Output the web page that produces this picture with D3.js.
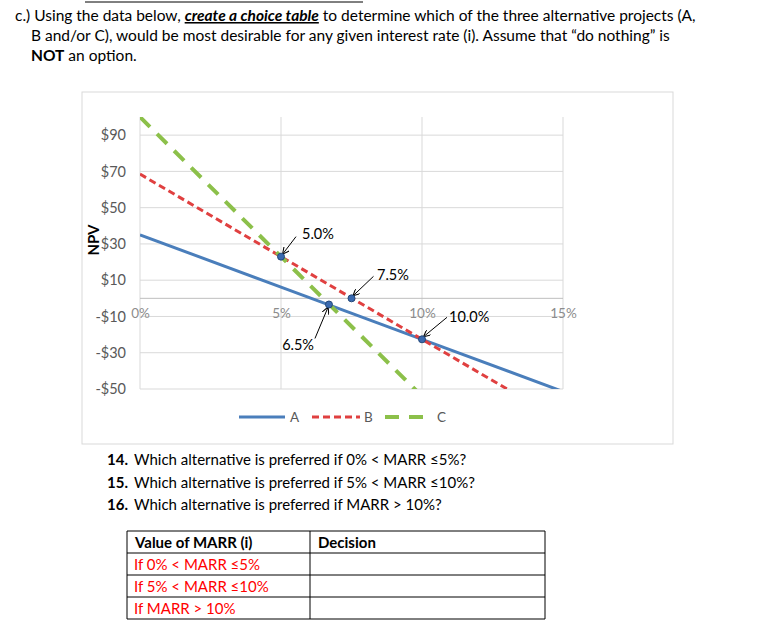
<!DOCTYPE html>
<html><head><meta charset="utf-8">
<script src="https://cdn.jsdelivr.net/npm/d3@7"></script>
<style>body{margin:0;background:#fff}svg{display:block;font-family:Lato,"Open Sans",sans-serif}</style>
</head><body><svg id="c" width="783" height="623"></svg>
<script>
const rates=[0,5,10,15];
const seriesA=[35,6.2,-22.6,-51.4];
const seriesB=[68.5,23,-22.6,-68];
const seriesC=[100,23,-54,-131];
const yTicks=[90,70,50,30,10,-10,-30,-50];
const xTicks=[0,5,10,15];
const crossX=[5,6.7,7.5,10];
const crossY=[23,-3.4,0,-22.6];
const crossLbl=["5.0%","6.5%","7.5%","10.0%"];
const questions=[["14.","Which alternative is preferred if 0% < MARR ≤5%?"],["15.","Which alternative is preferred if 5% < MARR ≤10%?"],["16.","Which alternative is preferred if MARR > 10%?"]];
const tableHead=["Value of MARR (i)","Decision"];
const tableRows=["If 0% < MARR ≤5%","If 5% < MARR ≤10%","If MARR > 10%"];

const svg=d3.select("#c");
svg.append("line").attr("x1",85).attr("x2",363).attr("y1",2).attr("y2",2).attr("stroke","#000").attr("stroke-width",1);
const t1=svg.append("text").attr("x",15).attr("y",21).attr("font-size",15.5);
t1.append("tspan").text("c.)  Using the data below, ");
t1.append("tspan").attr("font-weight","bold").attr("font-style","italic").attr("text-decoration","underline").text("create a choice table");
t1.append("tspan").text(" to determine which of the three alternative projects (A,");
svg.append("text").attr("x",31).attr("y",41).attr("font-size",15.5).text("B and/or C), would be most desirable for any given interest rate (i).  Assume that “do nothing” is");
const t3=svg.append("text").attr("x",31).attr("y",61).attr("font-size",15.5);
t3.append("tspan").attr("font-weight","bold").text("NOT");t3.append("tspan").text(" an option.");

svg.append("rect").attr("x",82).attr("y",92).attr("width",591).attr("height",352).attr("fill","#fff").attr("stroke","#d9d9d9");

const x=d3.scaleLinear().domain([0,15]).range([140,563]);
const y=d3.scaleLinear().domain([-50,100]).range([389,117]);
const g=svg.append("g");
g.selectAll(".gy").data(yTicks).join("line").attr("x1",x(0)).attr("x2",x(15)).attr("y1",d=>y(d)).attr("y2",d=>y(d)).attr("stroke","#d9d9d9");
g.selectAll(".gx").data(xTicks).join("line").attr("x1",d=>x(d)).attr("x2",d=>x(d)).attr("y1",y(100)).attr("y2",y(-50)).attr("stroke","#d9d9d9");
g.append("line").attr("x1",x(0)).attr("x2",x(15)).attr("y1",y(0)).attr("y2",y(0)).attr("stroke","#bfbfbf");
const yAxis=d3.axisLeft(y).tickValues(yTicks).tickSize(0).tickPadding(14).tickFormat(d=>(d<0?"-$":"$")+Math.abs(d));
const ya=svg.append("g").attr("transform",`translate(${x(0)},0)`).call(yAxis);
ya.select(".domain").remove();
ya.selectAll("text").attr("fill","#595959").attr("font-size",14.5).attr("font-family","Lato,sans-serif");
const xAxis=d3.axisBottom(x).tickValues(xTicks).tickSize(0).tickPadding(10).tickFormat(d=>d+"%");
const xa=svg.append("g").attr("transform",`translate(0,${y(0)})`).call(xAxis);
xa.select(".domain").remove();
xa.selectAll("text").attr("fill","#8c8c8c").attr("font-size",13.5).attr("font-family","Lato,sans-serif");
svg.append("text").attr("transform",`translate(99,240) rotate(-90)`).attr("text-anchor","middle").attr("font-weight","bold").attr("font-size",15).text("NPV");

svg.append("clipPath").attr("id","pc").append("rect").attr("x",x(0)).attr("y",y(100)).attr("width",x(15)-x(0)).attr("height",y(-50)-y(100));
const line=d3.line().x((d,i)=>x(rates[i])).y(d=>y(d));
const lg=svg.append("g").attr("clip-path","url(#pc)");
const sty=[[seriesA,"#4a7ebb",3,null],[seriesB,"#e04040",3,"7,4"],[seriesC,"#8cc04a",4,"14,10"]];
sty.forEach(([s,c,w,da])=>lg.append("path").attr("d",line(s)).attr("fill","none").attr("stroke",c).attr("stroke-width",w).attr("stroke-dasharray",da));

svg.append("defs").append("marker").attr("id","ar").attr("viewBox","0 0 10 10").attr("refX",9).attr("refY",5).attr("markerWidth",7).attr("markerHeight",7).attr("orient","auto").append("path").attr("d","M0,0L10,5L0,10").attr("fill","none").attr("stroke","#000").attr("stroke-width",1.5);
const offs=[[15,-20,302,239,"start"],[-14,34,313,350,"end"],[22,-22,377,280,"start"],[25,-22,449,322,"start"]];
crossX.forEach((cx,i)=>{
  const px=x(cx),py=y(crossY[i]),o=offs[i];
  svg.append("line").attr("x1",px+o[0]).attr("y1",py+o[1]).attr("x2",px+(o[0]>0?2:-1)).attr("y2",py+(o[1]>0?3:-3)).attr("stroke","#000").attr("stroke-width",1).attr("marker-end","url(#ar)");
  svg.append("circle").attr("cx",px).attr("cy",py).attr("r",3.5).attr("fill","#3a6ab0").attr("stroke","#24497a");
  svg.append("text").attr("x",o[4]==="end"?314:o[2]).attr("y",o[3]).attr("text-anchor",o[4]).attr("font-size",14.5).text(crossLbl[i]);
});
const leg=[["A","#4a7ebb",3,null,239,285,290],["B","#e04040",3,"7,4",312,360,364],["C","#8cc04a",4,"14,10",385,428,437]];
leg.forEach(l=>{svg.append("line").attr("x1",l[4]).attr("x2",l[5]).attr("y1",417).attr("y2",417).attr("stroke",l[1]).attr("stroke-width",l[2]).attr("stroke-dasharray",l[3]);
svg.append("text").attr("x",l[6]).attr("y",422).attr("font-size",13.5).attr("fill","#595959").text(l[0]);});

questions.forEach((q,i)=>{const t=svg.append("text").attr("x",107).attr("y",465+i*22.5).attr("font-size",15);
t.append("tspan").attr("font-weight","bold").text(q[0]);t.append("tspan").attr("x",134).text(q[1]);});
const tx=[127,310,545],ty=[531,553,575,597,619];
ty.forEach(v=>svg.append("line").attr("x1",tx[0]).attr("x2",tx[2]).attr("y1",v).attr("y2",v).attr("stroke","#000"));
tx.forEach(v=>svg.append("line").attr("x1",v).attr("x2",v).attr("y1",ty[0]).attr("y2",ty[4]).attr("stroke","#000"));
tableHead.forEach((h,i)=>svg.append("text").attr("x",tx[i]+8).attr("y",548).attr("font-weight","bold").attr("font-size",15).text(h));
tableRows.forEach((r,i)=>svg.append("text").attr("x",tx[0]+7).attr("y",570+i*22).attr("font-size",15).attr("fill","#ff0000").text(r));
</script></body></html>
